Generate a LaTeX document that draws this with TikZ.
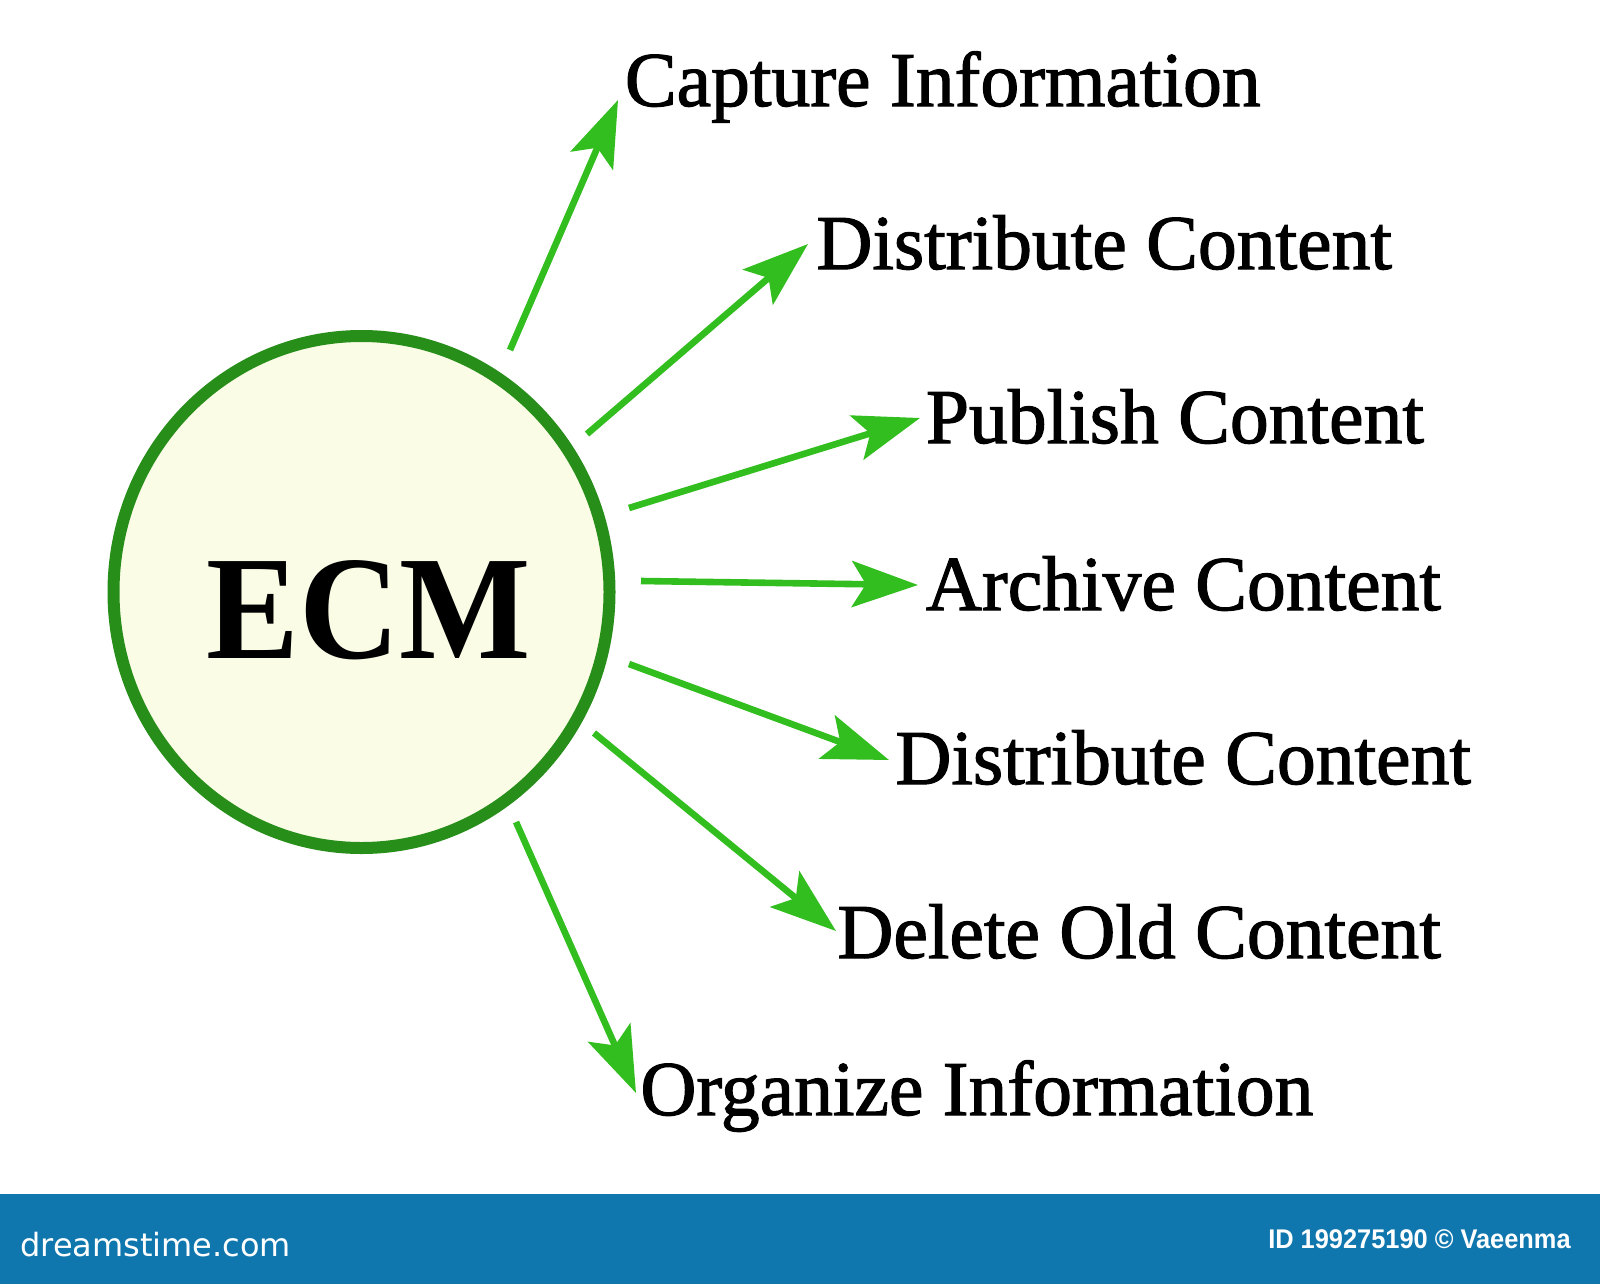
\documentclass[tikz,border=0pt]{standalone}
\usepackage{fontspec}
\setmainfont{Liberation Serif}
\newfontfamily\labfont[FakeBold=1.5]{Liberation Serif}
\newfontfamily\ecmfont{Liberation Serif}
\newfontfamily\banfont{DejaVu Sans}
\newfontfamily\idfont{Liberation Sans}
\usetikzlibrary{arrows.meta,shapes.geometric}
\definecolor{ringgreen}{RGB}{40,142,26}
\definecolor{ringfill}{RGB}{250,252,230}
\definecolor{arrowgreen}{RGB}{50,190,30}
\definecolor{banblue}{RGB}{16,119,174}
\begin{document}
\begin{tikzpicture}[x=0.5pt,y=-0.5pt,
  hub/.style={ellipse,draw=ringgreen,line width=6pt,fill=ringfill,minimum width=248pt,minimum height=256pt,inner sep=0pt},
  lab/.style={anchor=base west,inner sep=0pt,font=\labfont\fontsize{38.8}{40}\selectfont,text=black},
  ray/.style={draw=arrowgreen,line width=3.3pt,-{Stealth[length=33pt,width=23pt,inset=7pt]}}]
\useasboundingbox (0,0) rectangle (1600,1284);
\fill[white] (0,0) rectangle (1600,1284);
\node[hub] (ecm) at (361.5,592) {};
\node[anchor=base,inner sep=0pt,xscale=0.94,font=\ecmfont\bfseries\fontsize{74}{76}\selectfont] (ecmt) at (368.5,658) {ECM};
% labels
\node[lab] (l1) at (624.5,106) {Capture Information};
\node[lab] (l2) at (816,269) {Distribute Content};
\node[lab] (l3) at (925.5,443) {Publish Content};
\node[lab] (l4) at (925.5,610) {Archive Content};
\node[lab] (l5) at (895,784) {Distribute Content};
\node[lab] (l6) at (837,958) {Delete Old Content};
\node[lab] (l7) at (640,1115) {Organize Information};
% arrow ends
\coordinate (s1) at (510,350); \coordinate (t1) at (618,100);
\coordinate (s2) at (587,434); \coordinate (t2) at (808,244);
\coordinate (s3) at (629,508); \coordinate (t3) at (920,418);
\coordinate (s4) at (641,581); \coordinate (t4) at (918,585);
\coordinate (s5) at (629,664); \coordinate (t5) at (889,760);
\coordinate (s6) at (594,733); \coordinate (t6) at (836,931);
\coordinate (s7) at (516,822); \coordinate (t7) at (636,1093);
\foreach \i in {1,...,7} {\draw[ray] (s\i) -- (t\i);}
% banner
\fill[banblue] (0,1194) rectangle (1600,1284);
\node[anchor=base west,inner sep=0pt,text=white,font=\banfont\fontsize{16}{17}\selectfont] (brand) at (20,1256) {dreamstime.com};
\node[anchor=base east,inner sep=0pt,text=white,xscale=0.94,font=\idfont\bfseries\fontsize{13.5}{15}\selectfont] (imgid) at (1571,1248) {ID 199275190 © Vaeenma};
\end{tikzpicture}
\end{document}
